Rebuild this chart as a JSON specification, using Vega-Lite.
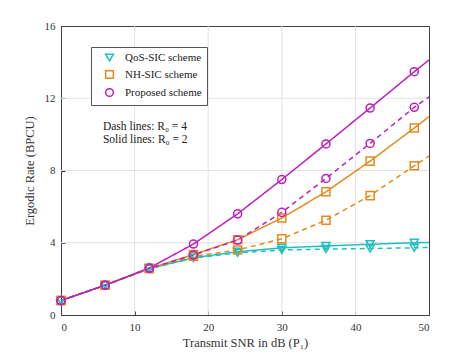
{
  "$schema": "https://vega.github.io/schema/vega-lite/v6.json",
  "width": 368,
  "height": 289,
  "autosize": "none",
  "padding": {"left": 61, "top": 26, "right": 45, "bottom": 40},
  "background": "white",
  "config": {
    "font": "Liberation Serif",
    "view": {"stroke": "#404040", "strokeWidth": 1},
    "style": {"guide-label": {"font": "Liberation Serif"}, "guide-title": {"font": "Liberation Serif"}},
    "axis": {
      "labelFont": "Liberation Serif",
      "titleFont": "Liberation Serif",
      "labelFontSize": 11,
      "titleFontSize": 12.5,
      "titleFontWeight": "normal",
      "labelColor": "#333333",
      "titleColor": "#333333",
      "domainColor": "#404040",
      "tickColor": "#404040",
      "tickSize": -4,
      "grid": false
    },
    "legend": {
      "labelFont": "Liberation Serif",
      "labelFontSize": 11
    }
  },
  "datasets": {
    "xgrid": [{"snr": 10}, {"snr": 20}, {"snr": 30}, {"snr": 40}],
    "ygrid": [{"rate": 4}, {"rate": 8}, {"rate": 12}]
  },
  "data": {
    "values": [
      {"scheme": "QoS-SIC scheme", "R0": "2", "snr": 0, "rate": 0.8},
      {"scheme": "QoS-SIC scheme", "R0": "2", "snr": 6, "rate": 1.65},
      {"scheme": "QoS-SIC scheme", "R0": "2", "snr": 12, "rate": 2.57},
      {"scheme": "QoS-SIC scheme", "R0": "2", "snr": 18, "rate": 3.17},
      {"scheme": "QoS-SIC scheme", "R0": "2", "snr": 24, "rate": 3.5},
      {"scheme": "QoS-SIC scheme", "R0": "2", "snr": 30, "rate": 3.72},
      {"scheme": "QoS-SIC scheme", "R0": "2", "snr": 36, "rate": 3.82},
      {"scheme": "QoS-SIC scheme", "R0": "2", "snr": 42, "rate": 3.92},
      {"scheme": "QoS-SIC scheme", "R0": "2", "snr": 48, "rate": 4.0},
      {"scheme": "QoS-SIC scheme", "R0": "2", "snr": 50, "rate": 4.02},
      {"scheme": "QoS-SIC scheme", "R0": "4", "snr": 0, "rate": 0.8},
      {"scheme": "QoS-SIC scheme", "R0": "4", "snr": 6, "rate": 1.65},
      {"scheme": "QoS-SIC scheme", "R0": "4", "snr": 12, "rate": 2.57},
      {"scheme": "QoS-SIC scheme", "R0": "4", "snr": 18, "rate": 3.15},
      {"scheme": "QoS-SIC scheme", "R0": "4", "snr": 24, "rate": 3.44},
      {"scheme": "QoS-SIC scheme", "R0": "4", "snr": 30, "rate": 3.6},
      {"scheme": "QoS-SIC scheme", "R0": "4", "snr": 36, "rate": 3.65},
      {"scheme": "QoS-SIC scheme", "R0": "4", "snr": 42, "rate": 3.68},
      {"scheme": "QoS-SIC scheme", "R0": "4", "snr": 48, "rate": 3.72},
      {"scheme": "QoS-SIC scheme", "R0": "4", "snr": 50, "rate": 3.74},
      {"scheme": "NH-SIC scheme", "R0": "2", "snr": 0, "rate": 0.8},
      {"scheme": "NH-SIC scheme", "R0": "2", "snr": 6, "rate": 1.65},
      {"scheme": "NH-SIC scheme", "R0": "2", "snr": 12, "rate": 2.58},
      {"scheme": "NH-SIC scheme", "R0": "2", "snr": 18, "rate": 3.35},
      {"scheme": "NH-SIC scheme", "R0": "2", "snr": 24, "rate": 4.17},
      {"scheme": "NH-SIC scheme", "R0": "2", "snr": 30, "rate": 5.37},
      {"scheme": "NH-SIC scheme", "R0": "2", "snr": 36, "rate": 6.82},
      {"scheme": "NH-SIC scheme", "R0": "2", "snr": 42, "rate": 8.52},
      {"scheme": "NH-SIC scheme", "R0": "2", "snr": 48, "rate": 10.35},
      {"scheme": "NH-SIC scheme", "R0": "2", "snr": 50, "rate": 10.98},
      {"scheme": "NH-SIC scheme", "R0": "4", "snr": 0, "rate": 0.8},
      {"scheme": "NH-SIC scheme", "R0": "4", "snr": 6, "rate": 1.65},
      {"scheme": "NH-SIC scheme", "R0": "4", "snr": 12, "rate": 2.57},
      {"scheme": "NH-SIC scheme", "R0": "4", "snr": 18, "rate": 3.25},
      {"scheme": "NH-SIC scheme", "R0": "4", "snr": 24, "rate": 3.6},
      {"scheme": "NH-SIC scheme", "R0": "4", "snr": 30, "rate": 4.22},
      {"scheme": "NH-SIC scheme", "R0": "4", "snr": 36, "rate": 5.25},
      {"scheme": "NH-SIC scheme", "R0": "4", "snr": 42, "rate": 6.61},
      {"scheme": "NH-SIC scheme", "R0": "4", "snr": 48, "rate": 8.26},
      {"scheme": "NH-SIC scheme", "R0": "4", "snr": 50, "rate": 8.8},
      {"scheme": "Proposed scheme", "R0": "2", "snr": 0, "rate": 0.8},
      {"scheme": "Proposed scheme", "R0": "2", "snr": 6, "rate": 1.65},
      {"scheme": "Proposed scheme", "R0": "2", "snr": 12, "rate": 2.6},
      {"scheme": "Proposed scheme", "R0": "2", "snr": 18, "rate": 3.93},
      {"scheme": "Proposed scheme", "R0": "2", "snr": 24, "rate": 5.6},
      {"scheme": "Proposed scheme", "R0": "2", "snr": 30, "rate": 7.5},
      {"scheme": "Proposed scheme", "R0": "2", "snr": 36, "rate": 9.47},
      {"scheme": "Proposed scheme", "R0": "2", "snr": 42, "rate": 11.46},
      {"scheme": "Proposed scheme", "R0": "2", "snr": 48, "rate": 13.47},
      {"scheme": "Proposed scheme", "R0": "2", "snr": 50, "rate": 14.12},
      {"scheme": "Proposed scheme", "R0": "4", "snr": 0, "rate": 0.8},
      {"scheme": "Proposed scheme", "R0": "4", "snr": 6, "rate": 1.65},
      {"scheme": "Proposed scheme", "R0": "4", "snr": 12, "rate": 2.58},
      {"scheme": "Proposed scheme", "R0": "4", "snr": 18, "rate": 3.32},
      {"scheme": "Proposed scheme", "R0": "4", "snr": 24, "rate": 4.15},
      {"scheme": "Proposed scheme", "R0": "4", "snr": 30, "rate": 5.68},
      {"scheme": "Proposed scheme", "R0": "4", "snr": 36, "rate": 7.56},
      {"scheme": "Proposed scheme", "R0": "4", "snr": 42, "rate": 9.5},
      {"scheme": "Proposed scheme", "R0": "4", "snr": 48, "rate": 11.5},
      {"scheme": "Proposed scheme", "R0": "4", "snr": 50, "rate": 12.07}
    ]
  },
  "layer": [
    {
      "data": {"name": "xgrid"},
      "mark": {"type": "rule", "color": "#e2e2e2", "strokeWidth": 1},
      "encoding": {
        "x": {"field": "snr", "type": "quantitative", "scale": {"domain": [0, 50], "nice": false},
          "axis": {"values": [0, 10, 20, 30, 40, 50], "title": "Transmit SNR in dB (P₁)", "labelPadding": 10, "titlePadding": 4}}
      }
    },
    {
      "data": {"name": "ygrid"},
      "mark": {"type": "rule", "color": "#e2e2e2", "strokeWidth": 1},
      "encoding": {
        "y": {"field": "rate", "type": "quantitative", "scale": {"domain": [0, 16], "nice": false},
          "axis": {"values": [0, 4, 8, 12, 16], "title": "Ergodic Rate (BPCU)", "labelPadding": 10, "titlePadding": 8}}
      }
    },
    {
      "mark": {"type": "line", "strokeWidth": 1.5},
      "encoding": {
        "x": {"field": "snr", "type": "quantitative"},
        "y": {"field": "rate", "type": "quantitative"},
        "color": {
          "field": "scheme", "type": "nominal",
          "scale": {
            "domain": ["QoS-SIC scheme", "NH-SIC scheme", "Proposed scheme"],
            "range": ["#22BFBF", "#E68A1E", "#BD1FBD"]
          },
          "legend": {
            "orient": "none",
            "legendX": 30,
            "legendY": 21,
            "title": null,
            "labelFont": "Liberation Serif",
            "labelFontSize": 11,
            "labelColor": "#222222",
            "strokeColor": "#555555",
            "fillColor": "white",
            "padding": 5,
            "rowPadding": 3,
            "symbolSize": 60,
            "symbolStrokeWidth": 1.5,
            "symbolOffset": 8,
            "labelOffset": 10
          }
        },
        "detail": {"field": "R0"},
        "strokeDash": {
          "field": "R0", "type": "nominal",
          "scale": {"domain": ["2", "4"], "range": [[1, 0], [5, 4]]},
          "legend": null
        }
      }
    },
    {
      "transform": [{"filter": "datum.snr != 50"}],
      "mark": {"type": "point", "filled": false, "strokeWidth": 1.5, "size": 65, "opacity": 1},
      "encoding": {
        "x": {"field": "snr", "type": "quantitative"},
        "y": {"field": "rate", "type": "quantitative"},
        "color": {"field": "scheme", "type": "nominal"},
        "shape": {
          "field": "scheme", "type": "nominal",
          "scale": {
            "domain": ["QoS-SIC scheme", "NH-SIC scheme", "Proposed scheme"],
            "range": ["triangle-down", "square", "circle"]
          }
        }
      }
    },
    {
      "data": {"values": [{"snr": 5.7, "rate": 10.72, "label": "Dash lines: R₀ = 4\nSolid lines: R₀ = 2"}]},
      "mark": {"type": "text", "align": "left", "baseline": "middle", "lineBreak": "\n", "lineHeight": 13, "fontSize": 11.5, "font": "Liberation Serif", "dy": 6},
      "encoding": {
        "x": {"field": "snr", "type": "quantitative"},
        "y": {"field": "rate", "type": "quantitative"},
        "text": {"field": "label"},
        "color": {"value": "#222222"}
      }
    }
  ]
}
